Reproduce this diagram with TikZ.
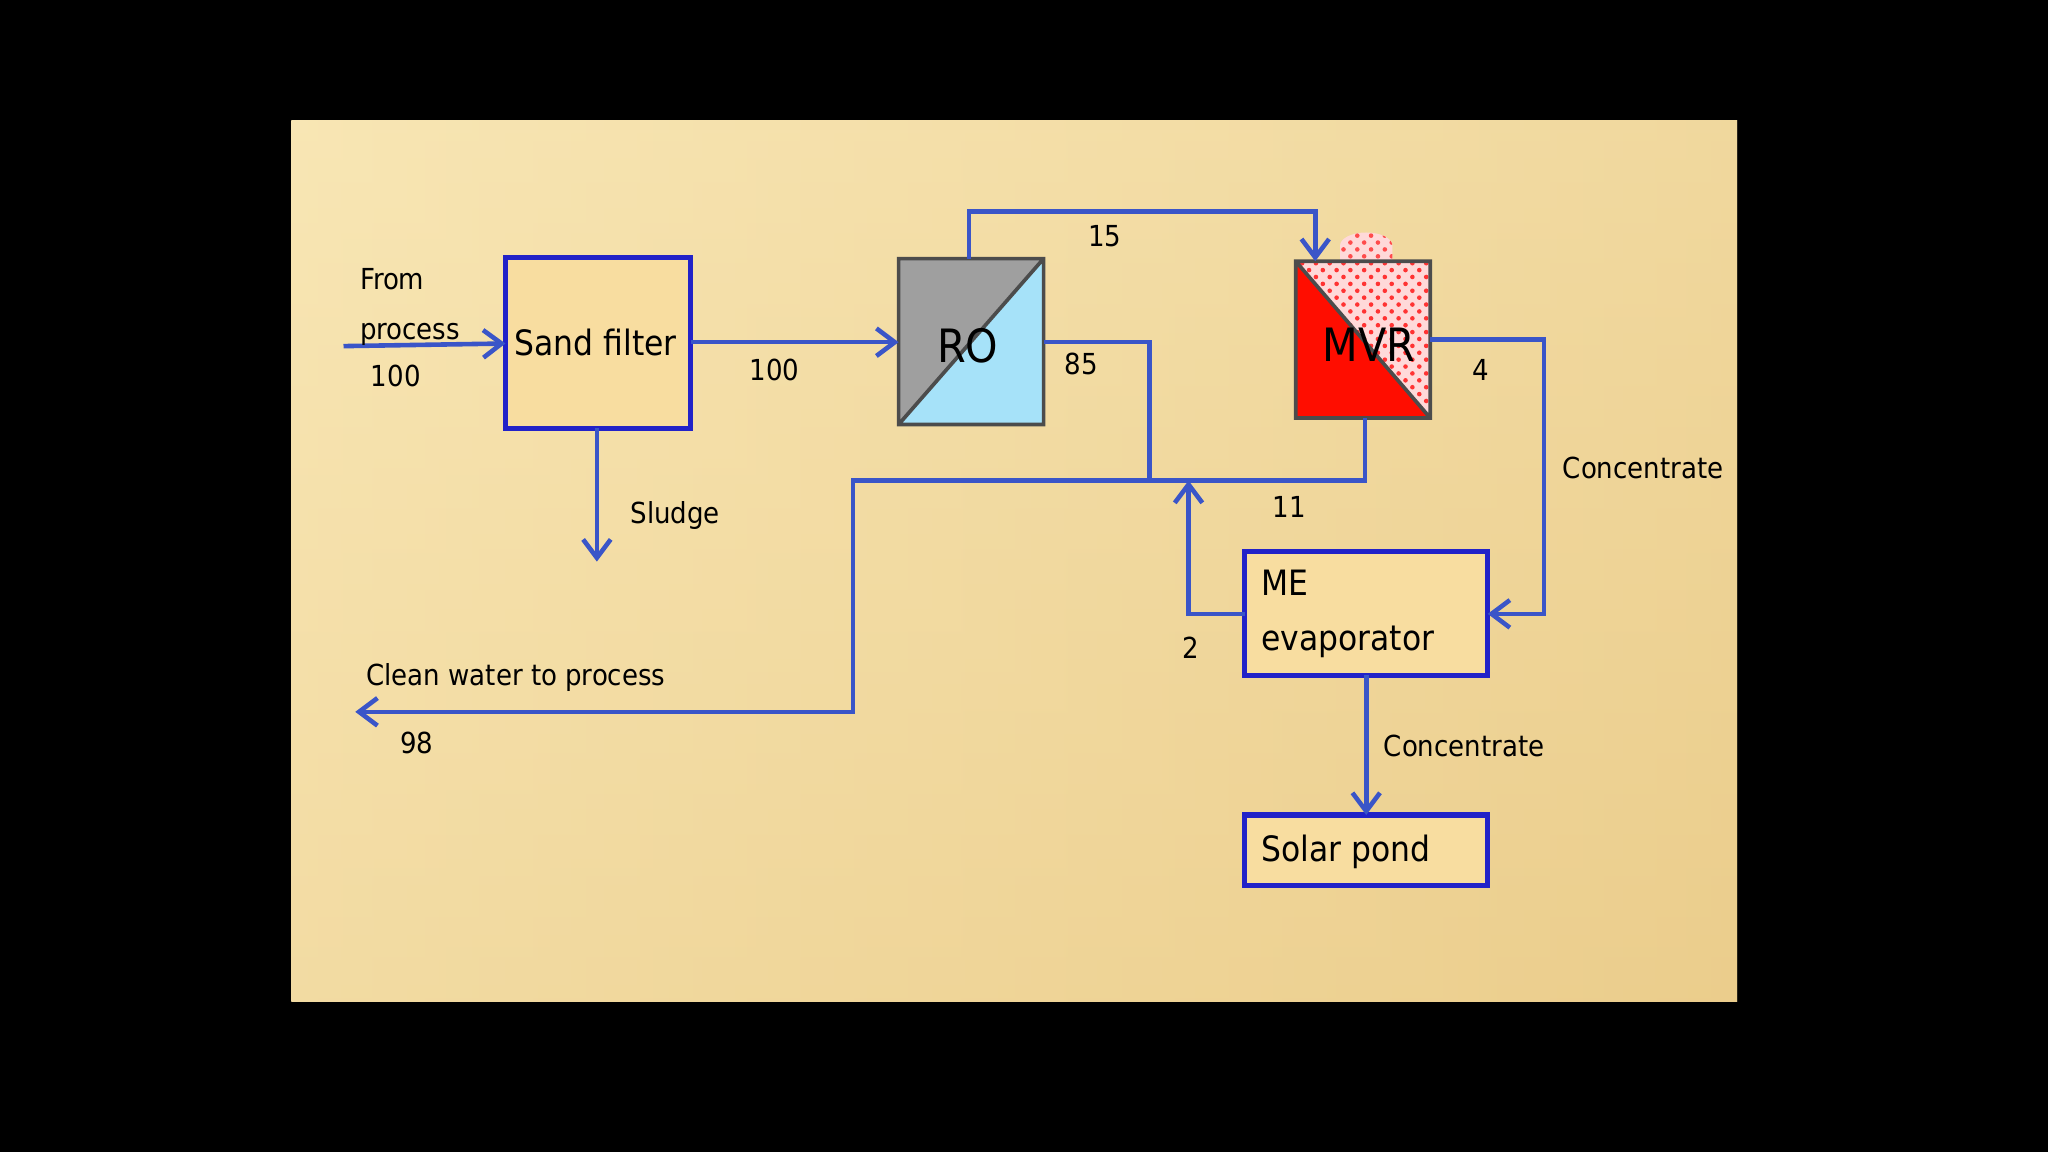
\documentclass[tikz,border=0pt]{standalone}
\usepackage{fontspec}
\setmainfont{DejaVu Sans Condensed}
\usetikzlibrary{arrows.meta,patterns}
\definecolor{pipe}{HTML}{3A55C8}
\definecolor{frame}{HTML}{2222C8}
\definecolor{boxfill}{HTML}{F8DDA0}
\definecolor{bgA}{HTML}{F8E6B4}
\definecolor{bgB}{HTML}{EACB88}
\tikzset{
  pipe/.style={draw=pipe,line width=1pt},
  arr/.style={pipe,-{Straight Barb[length=4pt,width=6pt]}},
  unit/.style={draw=frame,line width=1.1pt,fill=boxfill},
  lbl/.style={font=\fontsize{6.3}{8}\selectfont,text=black,inner sep=0pt},
  big/.style={font=\fontsize{7.6}{10}\selectfont,text=black,inner sep=0pt},
}
\begin{document}
\begin{tikzpicture}[x=0.01cm,y=-0.01cm]
\useasboundingbox (0,0) rectangle (1568,882);
\fill[black] (0,0) rectangle (1568,882);
\shade[top color=bgA, bottom color=bgB!80!bgA] (223,92) rectangle (1330,767);
\shade[left color=bgA, right color=bgB,opacity=0.5] (223,92) rectangle (1330,767);
% units
\draw[unit] (387,197) rectangle (529,328);
\node[big] (sf) at (456,262) {Sand filter};
\coordinate (sfW) at (387,263); \coordinate (sfE) at (529,262); \coordinate (sfS) at (457,328);
\fill[gray!75] (688,198) -- (799,198) -- (688,325) -- cycle;
\fill[cyan!35] (799,198) -- (799,325) -- (688,325) -- cycle;
\draw[black!70,line width=0.8pt] (688,198) rectangle (799,325) (688,325) -- (799,198);
\node[big,font=\fontsize{10}{12}\selectfont] (ro) at (741,265) {RO};
\coordinate (roT) at (742,198); \coordinate (roR) at (799,262); \coordinate (roL) at (688,262);
% MVR
\fill[red!15] (1026,200) -- (1026,188) arc[start angle=180,end angle=0,x radius=20,y radius=-10] -- (1066,200) -- cycle;
\fill[pattern=crosshatch dots,pattern color=red!70] (1026,200) -- (1026,188) arc[start angle=180,end angle=0,x radius=20,y radius=-10] -- (1066,200) -- cycle;
\fill[red!15] (992,200) -- (1095,200) -- (1095,320) -- cycle;
\fill[pattern=crosshatch dots,pattern color=red!80] (992,200) -- (1095,200) -- (1095,320) -- cycle;
\fill[red!90!orange] (992,200) -- (1095,320) -- (992,320) -- cycle;
\draw[black!70,line width=0.8pt] (992,200) rectangle (1095,320) (992,200) -- (1095,320);
\node[big,font=\fontsize{10}{12}\selectfont] (mvr) at (1048,264) {MVR};
\coordinate (mvT) at (1007,200); \coordinate (mvR) at (1095,260); \coordinate (mvB) at (1045,320);
\draw[unit] (953,422) rectangle (1139,517);
\node[big,align=left,anchor=west] (me) at (965,470) {ME\\[2pt]evaporator};
\coordinate (meE) at (1139,470); \coordinate (meW) at (953,470); \coordinate (meS) at (1046,517);
\draw[unit] (953,624) rectangle (1139,678);
\node[big,anchor=west] (sp) at (965,652) {Solar pond};
\coordinate (spN) at (1046,624);
% connectors
\coordinate (in) at (263,265);
\draw[arr] (in) -- (sfW);
\draw[arr] (sfE) -- (roL);
\coordinate (sl) at (457,430);
\draw[arr] (sfS) -- (sl);
\draw[arr] (roT) -- (742,162) -- (1007,162) -- (mvT);
\draw[pipe] (roR) -- (880,262) -- (880,368);
\coordinate (out) at (272,545);
\draw[arr] (mvB) -- (1045,368) -- (653,368) -- (653,545) -- (out);
\draw[arr] (mvR) -- (1182,260) -- (1182,470) -- (meE);
\draw[arr] (meW) -- (910,470) -- (910,368);
\draw[arr] (meS) -- (spN);
% labels
\node[lbl,align=left,anchor=west] at (275,235) {From\\[3pt]process};
\node[lbl] at (303,288) {100};
\node[lbl] at (593,283) {100};
\node[lbl] at (517,395) {Sludge};
\node[lbl] at (846,181) {15};
\node[lbl] at (828,279) {85};
\node[lbl] at (1134,283) {4};
\node[lbl] at (1258,358) {Concentrate};
\node[lbl] at (987,388) {11};
\node[lbl] at (912,496) {2};
\node[lbl] at (395,519) {Clean water to process};
\node[lbl] at (319,569) {98};
\node[lbl] at (1121,571) {Concentrate};
\end{tikzpicture}
\end{document}
